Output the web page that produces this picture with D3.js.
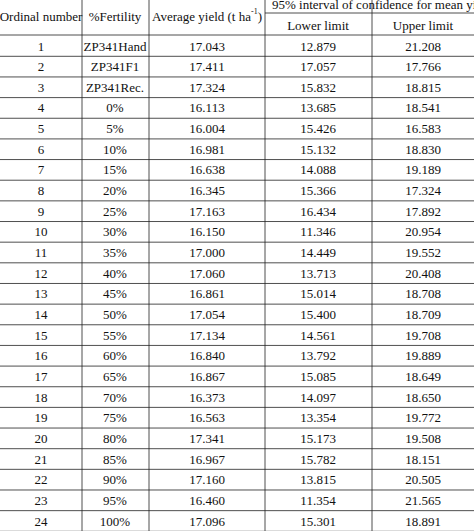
<!DOCTYPE html><html><head><meta charset="utf-8"><script src="https://cdn.jsdelivr.net/npm/d3@7"></script>
<style>body{margin:0;background:#fff}svg text{font-family:"Times New Roman","Liberation Serif",Tinos,serif;font-size:13px;fill:#111}</style></head><body><svg id="c" width="474" height="531"></svg>
<script>
const ordinals=d3.range(1,25);
const fertility=["ZP341Hand","ZP341F1","ZP341Rec.","0%","5%","10%","15%","20%","25%","30%","35%","40%","45%","50%","55%","60%","65%","70%","75%","80%","85%","90%","95%","100%"];
const avgYield=["17.043","17.411","17.324","16.113","16.004","16.981","16.638","16.345","17.163","16.150","17.000","17.060","16.861","17.054","17.134","16.840","16.867","16.373","16.563","17.341","16.967","17.160","16.460","17.096"];
const lower=["12.879","17.057","15.832","13.685","15.426","15.132","14.088","15.366","16.434","11.346","14.449","13.713","15.014","15.400","14.561","13.792","15.085","14.097","13.354","15.173","15.782","13.815","11.354","15.301"];
const upper=["21.208","17.766","18.815","18.541","16.583","18.830","19.189","17.324","17.892","20.954","19.552","20.408","18.708","18.709","19.708","19.889","18.649","18.650","19.772","19.508","18.151","20.505","21.565","18.891"];
const svg=d3.select("#c");
const colX=[0,82,149,265,372,474];
const centers=[41,115,207,318,423];
const y=d3.scaleLinear().domain([0,23]).range([46,521]);
const line=(x1,y1,x2,y2)=>svg.append("line").attr("x1",x1).attr("y1",y1).attr("x2",x2).attr("y2",y2).attr("stroke","#222").attr("stroke-width",0.8);
const t=(x,yy,s)=>svg.append("text").attr("x",x).attr("y",yy).attr("text-anchor","middle").attr("dominant-baseline","central").text(s);
t(41,16,"Ordinal number");t(115,16,"%Fertility");
const a=svg.append("text").attr("x",207).attr("y",16).attr("text-anchor","middle").attr("dominant-baseline","central");
a.append("tspan").text("Average yield (t ha");a.append("tspan").attr("font-size","8px").attr("dy",-5).text("-1");a.append("tspan").attr("dy",5).text(")");
svg.append("text").attr("x",272).attr("y",4).attr("dominant-baseline","central").text("95% interval of confidence for mean yield");
t(318,25,"Lower limit");t(423,25,"Upper limit");
line(265,13,474,13);line(0,35,474,35);
for(const x of colX.slice(1,5)) line(x,0,x,531);
const rows=ordinals.map((o,i)=>[o,fertility[i],avgYield[i],lower[i],upper[i]]);
rows.forEach((r,i)=>{r.forEach((v,j)=>t(centers[j],y(i),v));line(0,y(i)+10.3,474,y(i)+10.3);});
</script></body></html>
